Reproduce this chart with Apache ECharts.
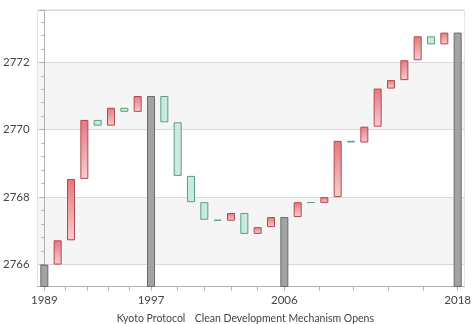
<!DOCTYPE html>
<html>
<head>
<meta charset="utf-8">
<script src="https://cdn.jsdelivr.net/npm/echarts@6/dist/echarts.min.js"></script>
<style>
html,body{margin:0;padding:0;background:#fff;}
#c{width:474px;height:324px;}
</style>
</head>
<body>
<div id="c"></div>
<script>
// categories (32 bars): start total, yearly changes, subtotals, final total
const categories = ['1989','1990','1991','1992','1993','1994','1995','1996','1997 total',
  '1997','1998','1999','2000','2001','2002','2003','2004','2005','2006 total',
  '2006','2007','2008','2009','2010','2011','2012','2013','2014','2015','2016','2017','2018 total'];
// yearly change; null marks a (sub)total bar
const changes = [null, 0.72, 1.82, 1.75, -0.17, 0.53, -0.12, 0.47, null,
  -0.78, -1.59, -0.78, -0.52, -0.03, 0.23, -0.62, 0.20, 0.30, null,
  0.44, -0.02, 0.17, 1.67, -0.05, 0.47, 1.13, 0.25, 0.59, 0.71, -0.24, 0.35, null];
const startValue = 2766.0;
// axis tick labels (year, note) and the bar index they sit under
const tickYears = ['1989', '1997', '2006', '2018'];
const tickNotes = ['', 'Kyoto Protocol', 'Clean Development Mechanism Opens', ''];
const tickIndex = [0, 8, 18, 31];
const yTickLabels = [2766, 2768, 2770, 2772];

// build waterfall series data
const base = [], rise = [], fall = [], total = [];
let level = startValue;
changes.forEach((d) => {
  if (d === null) {
    base.push(0); rise.push('-'); fall.push('-'); total.push(+level.toFixed(2));
  } else {
    const next = level + d;
    base.push(+Math.min(level, next).toFixed(2));
    if (d >= 0) { rise.push(d); fall.push('-'); }
    else { fall.push(-d); rise.push('-'); }
    total.push('-');
    level = next;
  }
});

// tick positions: majors at tickIndex with 5 subdivisions between
const tickPos = [];
for (let i = 0; i < tickIndex.length - 1; i++) {
  const a = tickIndex[i], b = tickIndex[i + 1];
  for (let k = 0; k < 5; k++) tickPos.push(a + k * (b - a) / 5);
}
tickPos.push(tickIndex[tickIndex.length - 1]);

const FONT = 'Lato';
const chart = echarts.init(document.getElementById('c'), null, {renderer: 'canvas'});
chart.setOption({
  animation: false,
  backgroundColor: '#fff',
  grid: {left: 37, right: 9, top: 10, bottom: 37, show: true, borderColor: '#d4d4d4', borderWidth: 1},
  xAxis: [{
    type: 'category', data: categories, show: false
  }, {
    type: 'value', min: -0.5, max: 31.5, position: 'bottom',
    axisLine: {show: true, lineStyle: {color: '#b0b0b0'}},
    axisTick: {show: true, length: 4, customValues: tickPos, lineStyle: {color: '#b0b0b0'}},
    splitLine: {show: false},
    axisLabel: {
      customValues: tickIndex, margin: 5, color: '#444', fontFamily: FONT, fontSize: 11.5,
      formatter: (v) => {
        const i = tickIndex.indexOf(Math.round(v));
        if (i < 0) return '';
        return '{y|' + tickYears[i] + '}' + (tickNotes[i] ? '\n{n|' + tickNotes[i] + '}' : '');
      },
      rich: {
        y: {fontFamily: FONT, fontSize: 11.5, lineHeight: 18, color: '#444'},
        n: {fontFamily: FONT, fontSize: 10.5, lineHeight: 18, color: '#444'}
      }
    }
  }],
  yAxis: {
    type: 'value', min: 2765.35, max: 2773.55, splitNumber: 4,
    axisLine: {show: true, lineStyle: {color: '#b0b0b0'}},
    axisTick: {show: true, length: 5, lineStyle: {color: '#b0b0b0'}},
    minorTick: {show: true, splitNumber: 5, length: 3, lineStyle: {color: '#b0b0b0'}},
    splitLine: {show: true, lineStyle: {color: '#d8d8d8'}},
    splitArea: {show: true, areaStyle: {color: ['#ffffff', '#f5f5f5']}},
    axisLabel: {
      margin: 8, color: '#444', fontFamily: FONT, fontSize: 11.5,
      formatter: (v) => yTickLabels.indexOf(Math.round(v * 100) / 100) >= 0 ? String(v) : ''
    }
  },
  series: [{
    type: 'bar', stack: 'wf', xAxisIndex: 0, data: base, barWidth: 8, silent: true,
    itemStyle: {color: 'rgba(0,0,0,0)', borderColor: 'rgba(0,0,0,0)'}
  }, {
    type: 'bar', stack: 'wf', xAxisIndex: 0, data: rise, barWidth: 8,
    itemStyle: {
      color: new echarts.graphic.LinearGradient(0, 0, 0, 1, [{offset: 0, color: '#e5787d'}, {offset: 1, color: '#f6cdd0'}]),
      borderColor: '#b04a50', borderWidth: 1
    }
  }, {
    type: 'bar', stack: 'wf', xAxisIndex: 0, data: fall, barWidth: 8,
    itemStyle: {color: '#c9eadd', borderColor: '#5a9f83', borderWidth: 1}
  }, {
    type: 'bar', stack: 'wf', xAxisIndex: 0, data: total, barWidth: 8,
    itemStyle: {color: '#a3a3a3', borderColor: '#6a6a6a', borderWidth: 1}
  }]
});
</script>
</body>
</html>
